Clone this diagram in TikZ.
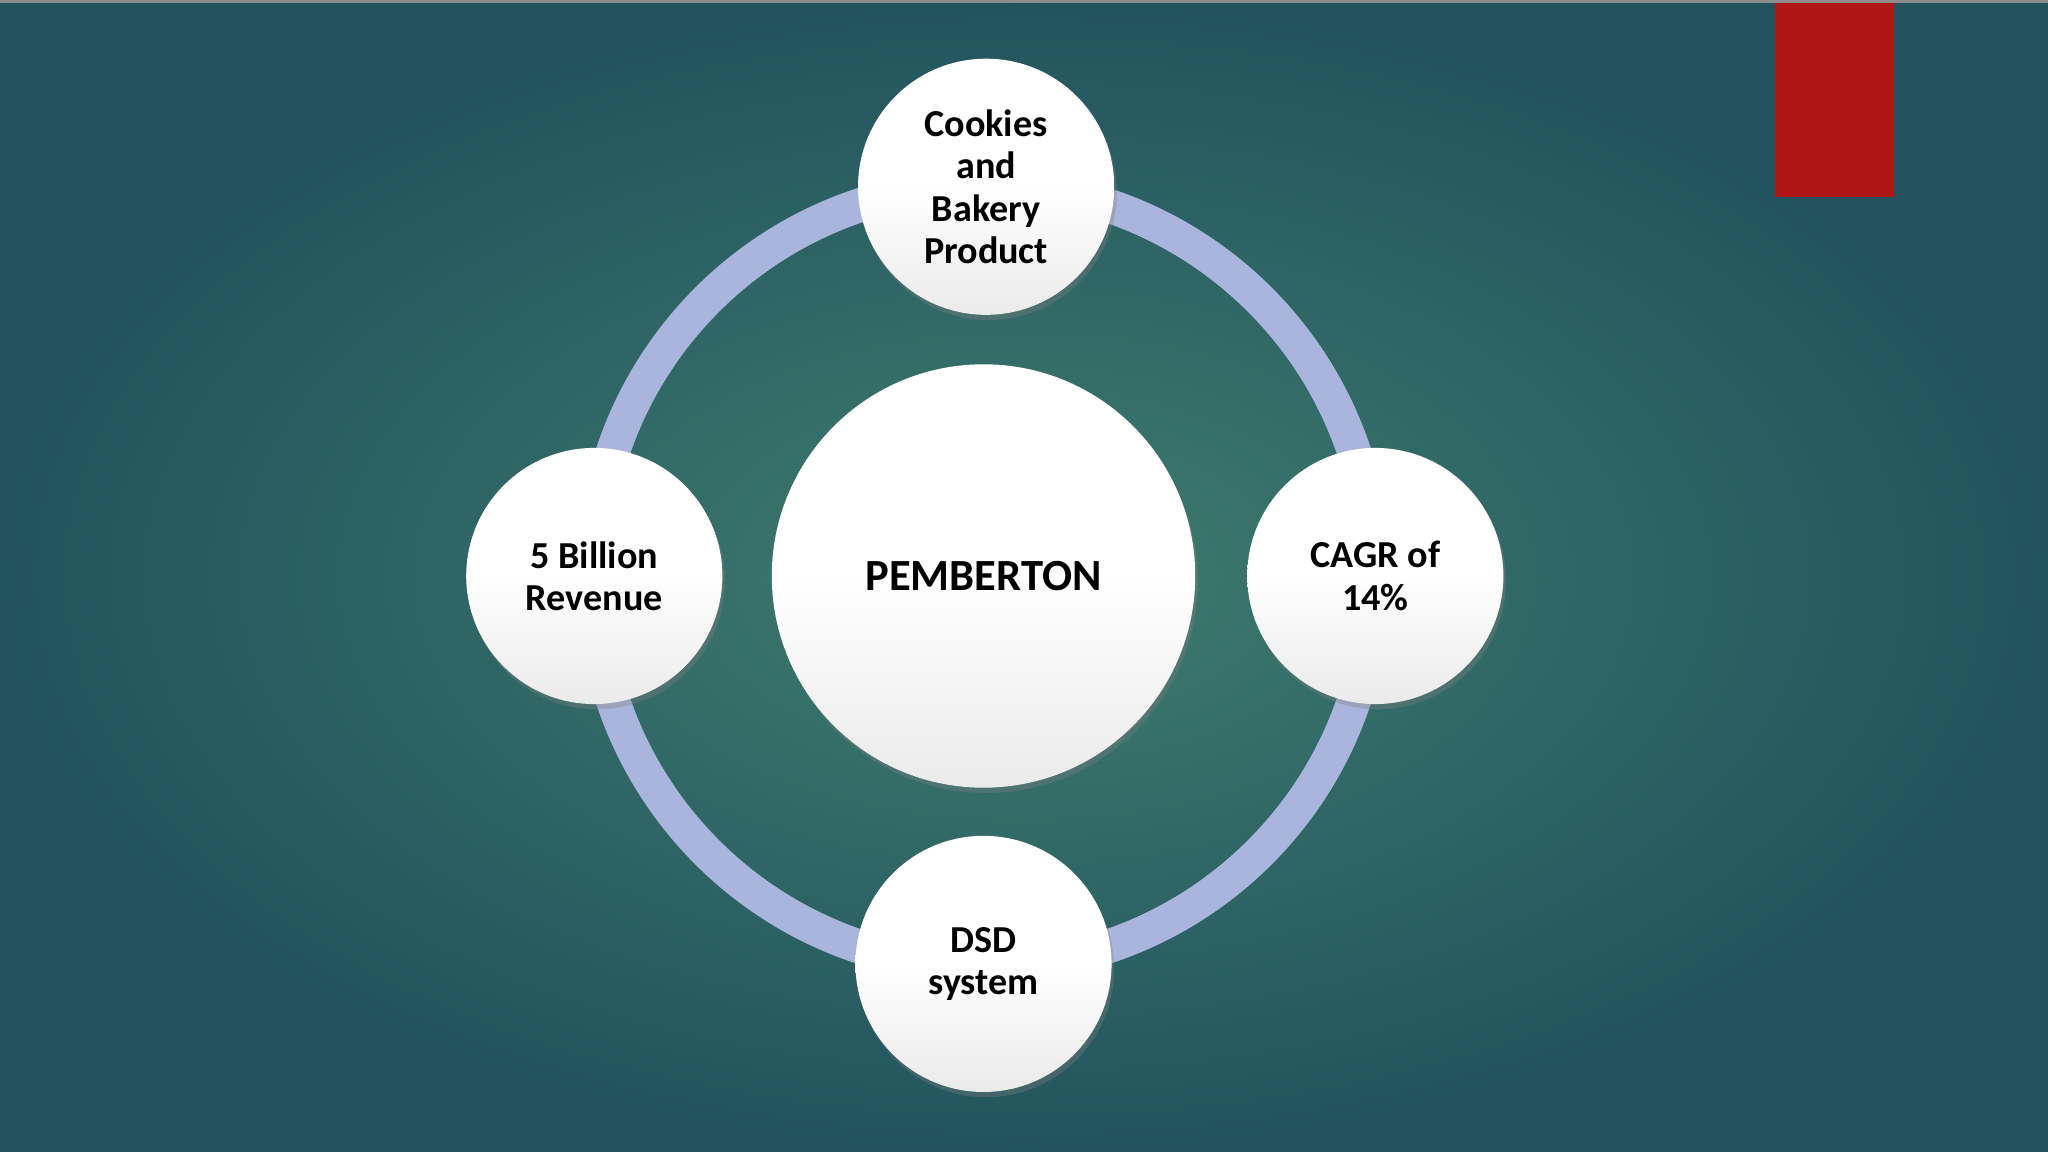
\documentclass[tikz,border=0pt]{standalone}
\usepackage{fontspec}
\setmainfont{Carlito}
\usetikzlibrary{shadows}
\definecolor{bgin}{HTML}{3F7C6F}
\definecolor{bgout}{HTML}{22535D}
\definecolor{ring}{HTML}{A9B5DD}
\definecolor{redbar}{HTML}{AF1515}
\tikzset{
  bubble/.style={circle, draw=none, top color=white, bottom color=black!8, middle color=white,
    drop shadow={shadow xshift=0.02cm, shadow yshift=-0.04cm, opacity=0.35},
    align=center, font=\bfseries\fontsize{8.3}{9.2}\selectfont, inner sep=0pt},
  small/.style={bubble, minimum size=1.96cm},
}
\begin{document}
\begin{tikzpicture}[x=0.01cm,y=-0.01cm]
\useasboundingbox (0,0) rectangle (1568,882);
\shade[inner color=bgin, outer color=bgout] (0,0) rectangle (1568,882);
\fill[black!45] (0,0) rectangle (1568,2);
\fill[redbar] (1359,2) rectangle (1450,151);
\coordinate (c) at (753,441);
\draw[ring, line width=0.26cm] (c) circle[radius=2.99cm];
\node[bubble, minimum size=3.24cm, font=\bfseries\fontsize{9.7}{11}\selectfont] (pem) at (c) {PEMBERTON};
\node[small] (top) at (755,143) {Cookies\\and\\Bakery\\Product};
\node[small] (left) at (455,441) {5 Billion\\Revenue};
\node[small] (right) at (1053,441) {CAGR of\\14\%};
\node[small] (bot) at (753,738) {DSD\\system};
\end{tikzpicture}
\end{document}
